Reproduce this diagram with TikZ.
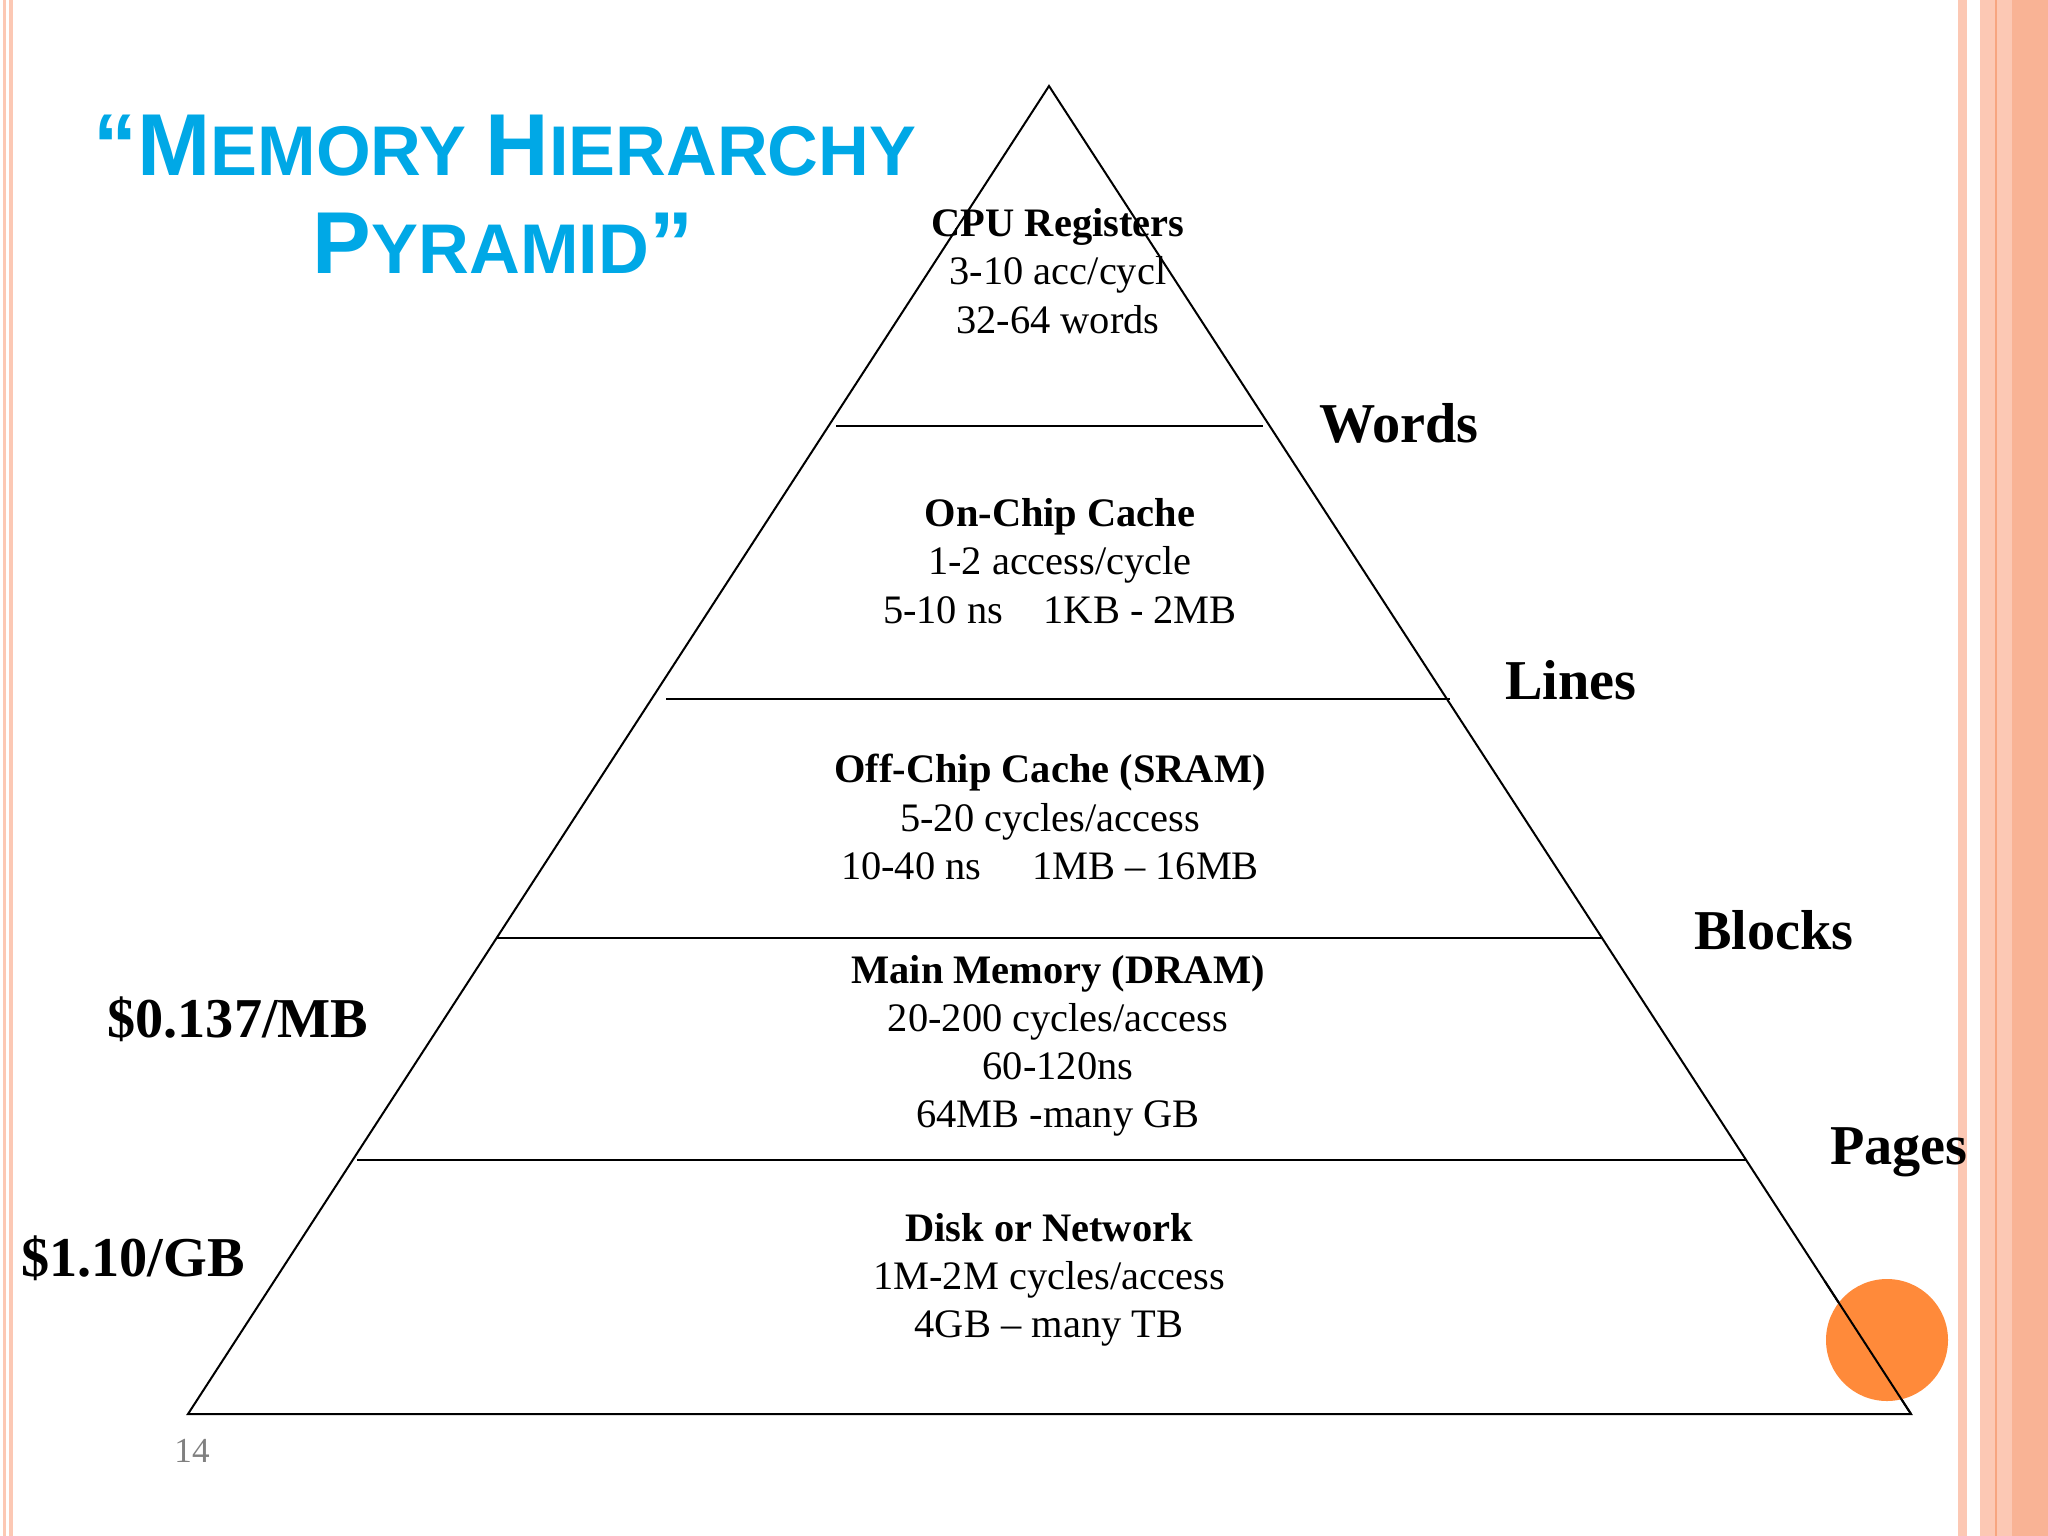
\documentclass[tikz,border=0pt]{standalone}
\usepackage{fontspec}
\setmainfont{Liberation Serif}
\newfontfamily\ttl{Liberation Sans}
\usetikzlibrary{calc}
\definecolor{pk}{HTML}{FCC8B4}
\definecolor{pkd}{HTML}{F7A580}
\definecolor{cy}{HTML}{00A8E6}
\definecolor{og}{HTML}{FF8A3A}
\begin{document}
\begin{tikzpicture}[x=0.01cm,y=-0.01cm,
  tx/.style={align=center,font=\fontsize{11.5}{13.7}\selectfont},
  lb/.style={font=\fontsize{16}{18}\selectfont\bfseries}]
\useasboundingbox (0,0) rectangle (2048,1536);
\fill[white] (0,0) rectangle (2048,1536);
\fill[pk] (3,0) rectangle (6,1536);
\fill[pk] (9,0) rectangle (13,1536);
\fill[pk] (1958,0) rectangle (1967,1536);
\fill[pk] (1980,0) rectangle (2048,1536);
\fill[pkd!60!pk] (2012,0) rectangle (2048,1536);
\draw[pkd,line width=0.02cm] (1996,0) -- (1996,1536);
% title
\node[text=cy,font=\ttl\bfseries] (t1) at (505,146) {{\fontsize{25}{28}\selectfont “M}{\fontsize{20}{24}\selectfont EMORY }{\fontsize{25}{28}\selectfont H}{\fontsize{20}{24}\selectfont IERARCHY}};
\node[text=cy,font=\ttl\bfseries] (t2) at (503,243) {{\fontsize{25}{28}\selectfont P}{\fontsize{20}{24}\selectfont YRAMID}{\fontsize{25}{28}\selectfont ”}};
% pyramid
\coordinate (A) at (1049,86);
\coordinate (L) at (188,1414);
\coordinate (R) at (1911,1414);
\draw[line width=0.02cm] (A) -- (L) -- (R) -- cycle;
\foreach \y/\a/\b in {426/836/1263, 699/666/1450, 938/496/1603, 1160/357/1746}
  \draw[line width=0.02cm] (\a,\y) -- (\b,\y);
\node[tx] (n1) at (1058,271) {\textbf{CPU Registers}\\3-10 acc/cycl\\32-64 words};
\node[tx] (n2) at (1060,561) {\textbf{On-Chip Cache}\\1-2 access/cycle\\5-10 ns\quad 1KB - 2MB};
\node[tx] (n3) at (1050,817) {\textbf{Off-Chip Cache (SRAM)}\\5-20 cycles/access\\10-40 ns\quad\ 1MB – 16MB};
\node[tx] (n4) at (1058,1046) {\textbf{Main Memory (DRAM)}\\20-200 cycles/access\\60-120ns\\64MB -many GB};
\node[tx] (n5) at (1049,1280) {\textbf{Disk or Network}\\1M-2M cycles/access\\4GB – many TB};
\node[lb] (w) at (1399,423) {Words};
\node[lb] (l) at (1571,680) {Lines};
\node[lb] (b) at (1774,930) {Blocks};
\node[lb] (p) at (1899,1152) {Pages};
\node[lb] (c1) at (238,1019) {\$0.137/MB};
\node[lb] (c2) at (133,1258) {\$1.10/GB};
\node[text=gray,font=\fontsize{10}{12}\selectfont] (pg) at (192,1451) {14};
\fill[og] (1887,1340) circle (61);
\draw[line width=0.02cm] ($(A)!0.9!(R)$) -- (R);
\end{tikzpicture}
\end{document}
